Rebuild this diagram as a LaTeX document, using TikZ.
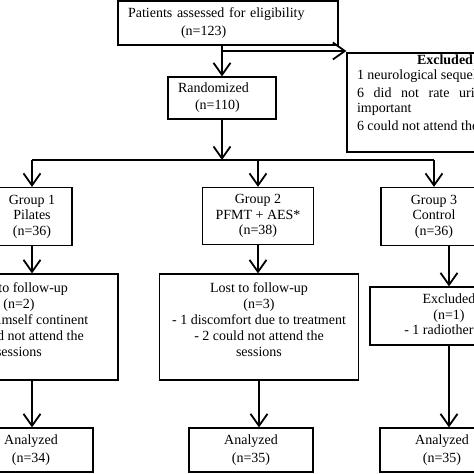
\documentclass[tikz,border=0pt]{standalone}
\usepackage{fontspec}
\setmainfont{Liberation Serif}
\usepackage{tikz}
\usetikzlibrary{arrows.meta}

\begin{document}
\begin{tikzpicture}[x=1pt, y=-1pt,
        box/.style={draw, line width=1.2pt, inner sep=0pt, align=center,
                    font=\fontsize{14}{15.5}\selectfont},
        flow/.style={line width=1.2pt,
                     -{Straight Barb[length=12pt, width=17pt, line width=1.8pt]}}]
        \useasboundingbox (0, 0) rectangle (474, 474);
        \clip (0, 0) rectangle (474, 474);

        \node[box, minimum width=220pt, minimum height=44pt, text width=200pt, align=left]
            (elig) at (228, 23) {Patients assessed for eligibility\\[3pt]\hspace*{53pt}(n=123)};
        \node[box, minimum width=108pt, minimum height=42pt, text width=88pt, align=left]
            (rand) at (222, 98) {Randomized\\[1.5pt]\hspace*{17pt}(n=110)};
        \node[box, inner xsep=10pt] (excl) at (479.5, 102.5) {\parbox[c][99pt][t]{245pt}{%
            \hyphenpenalty=10000 \rule{0pt}{11pt}\hspace*{60pt}\textbf{Excluded (n=13)}\par
            1 neurological sequelae\par\vspace{2pt}
            6 did not rate urinary incontinence as important\par\vspace{2pt}
            6 could not attend the sessions}};

        \node[box, minimum width=80pt, minimum height=58pt] (grp1) at (32, 216.5) {Group 1\\Pilates\\(n=36)};
        \node[box, minimum width=111pt, minimum height=57pt] (grp2) at (258, 216) {Group 2\\PFMT + AES*\\(n=38)};
        \node[box, minimum width=106pt, minimum height=58pt] (grp3) at (434, 216.5) {Group 3\\Control\\(n=36)};

        \node[box] (lost1) at (19, 327) {\parbox[c][106pt][t]{198pt}{\centering
            \fontsize{14}{16}\selectfont\rule{0pt}{18pt}Lost to follow-up\\(n=2)\\- 1 felt himself continent\\
            - 1 could not attend the\\sessions}};
        \node[box] (lost2) at (259, 327) {\parbox[c][106pt][t]{199pt}{\centering
            \fontsize{14}{16}\selectfont\rule{0pt}{18pt}Lost to follow-up\\(n=3)\\- 1 discomfort due to treatment\\
            - 2 could not attend the\\sessions}};
        \node[box, minimum width=158pt, minimum height=58pt] (excl3) at (449, 316) {Excluded\\(n=1)\\- 1 radiotherapy};

        \node[box, minimum width=124pt, minimum height=44pt] (ana1) at (31, 450) {Analyzed\\[2.5pt](n=34)};
        \node[box, minimum width=124pt, minimum height=44pt] (ana2) at (251, 450) {Analyzed\\[2.5pt](n=35)};
        \node[box, minimum width=124pt, minimum height=44pt] (ana3) at (442, 450) {Analyzed\\[2.5pt](n=35)};

        \coordinate (tee) at (222, 51);
        \coordinate (split) at (222, 160);
        \coordinate (drop1) at (lost1.south -| grp1);
        \draw[flow] (elig.south -| rand) -- (rand);
        \draw[flow] (tee) -- (tee -| excl.west);
        \draw[flow] (rand) -- (split);
        \draw[line width=1.2pt] (split -| grp1) -- (split -| grp3);
        \foreach \g in {grp1, grp2, grp3}
            \draw[flow] (split -| \g) -- (\g);

        \draw[flow] (grp1) -- (grp1 |- lost1.north);
        \draw[flow] (grp2) -- (grp2 |- lost2.north);
        \draw[flow] (grp3.south -| excl3) -- (excl3);

        \draw[flow] (drop1) -- (drop1 |- ana1.north);
        \draw[flow] (lost2) -- (lost2 |- ana2.north);
        \draw[flow] (excl3) -- (excl3 |- ana3.north);
    \end{tikzpicture}
\end{document}
